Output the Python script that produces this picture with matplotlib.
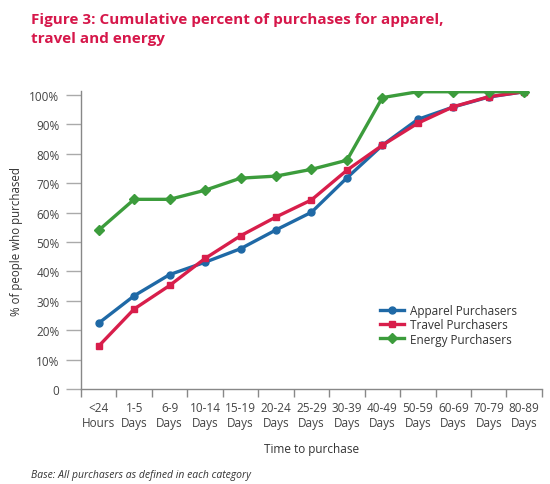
import matplotlib
matplotlib.use("Agg")
import matplotlib.pyplot as plt

categories = ["<24\nHours", "1-5\nDays", "6-9\nDays", "10-14\nDays", "15-19\nDays",
              "20-24\nDays", "25-29\nDays", "30-39\nDays", "40-49\nDays", "50-59\nDays",
              "60-69\nDays", "70-79\nDays", "80-89\nDays"]
apparel = [22.4, 31.7, 38.9, 43.1, 47.7, 54.1, 60.1, 71.8, 82.9, 91.7, 95.9, 99.3, 101.1]
travel = [14.6, 27.2, 35.2, 44.4, 52.1, 58.5, 64.3, 74.4, 82.9, 90.4, 96.0, 99.4, 101.1]
energy = [54.0, 64.5, 64.5, 67.6, 71.7, 72.4, 74.7, 77.8, 99.1, 101.1, 101.1, 101.1, 101.1]
yticks = [0, 10, 20, 30, 40, 50, 60, 70, 80, 90, 100]
ytick_labels = ["0", "10%", "20%", "30%", "40%", "50%", "60%", "70%", "80%", "90%", "100%"]

plt.rcParams['font.family'] = ['Open Sans', 'DejaVu Sans']

fig = plt.figure(figsize=(5.5, 4.85), dpi=100)
ax = fig.add_axes([0.1473, 0.196, 0.838, 0.614])

x = list(range(len(categories)))
blue = "#1f69a6"
red = "#d81e4b"
green = "#3c9c3c"
ax.plot(x, apparel, color=blue, lw=2.4, marker="o", ms=5, label="Apparel Purchasers", zorder=3)
ax.plot(x, travel, color=red, lw=2.4, marker="s", ms=5, label="Travel Purchasers", zorder=4)
ax.plot(x, energy, color=green, lw=2.4, marker="D", ms=5, label="Energy Purchasers", zorder=5)

ax.set_xlim(-0.5, len(categories) - 0.5)
ax.set_ylim(0, 101.3)
ax.set_yticks(yticks)
ax.set_yticklabels(ytick_labels)

ax.set_xticks([i - 0.5 for i in range(len(categories) + 1)])
ax.set_xticklabels([])
ax.set_xticks(x, minor=True)
ax.set_xticklabels(categories, minor=True)
ax.tick_params(axis="x", which="major", length=6, color="#888888", width=1)
ax.tick_params(axis="x", which="minor", length=0, pad=9, labelsize=8.5, labelcolor="#444444")
ax.tick_params(axis="y", length=10.5, color="#aaaaaa", width=1, pad=5, labelsize=8.5, labelcolor="#444444")

for s in ["top", "right"]:
    ax.spines[s].set_visible(False)
for s in ["left", "bottom"]:
    ax.spines[s].set_color("#888888")
    ax.spines[s].set_linewidth(1)
ax.spines["left"].set_bounds(0, 101.3)

ax.set_xlabel("Time to purchase", fontsize=8.5, color="#333333", labelpad=9)
ax.set_ylabel("% of people who purchased", fontsize=8.3, color="#333333")
ax.yaxis.set_label_coords(-0.125, 0.5)

leg = ax.legend(loc="center left", bbox_to_anchor=(0.639, 0.215), frameon=False,
                fontsize=8.5, handlelength=2.0, handletextpad=0.5, labelspacing=0.1,
                borderaxespad=0)
for t in leg.get_texts():
    t.set_color("#333333")

fig.text(0.056, 0.974, "Figure 3: Cumulative percent of purchases for apparel,\ntravel and energy",
         fontsize=11, fontweight="bold", color="#d6174a", va="top", ha="left", linespacing=1.5)
fig.text(0.056, 0.008, "Base: All purchasers as defined in each category",
         fontsize=7.5, style="italic", color="#333333", va="bottom", ha="left")

fig.savefig("out.png", dpi=100)
